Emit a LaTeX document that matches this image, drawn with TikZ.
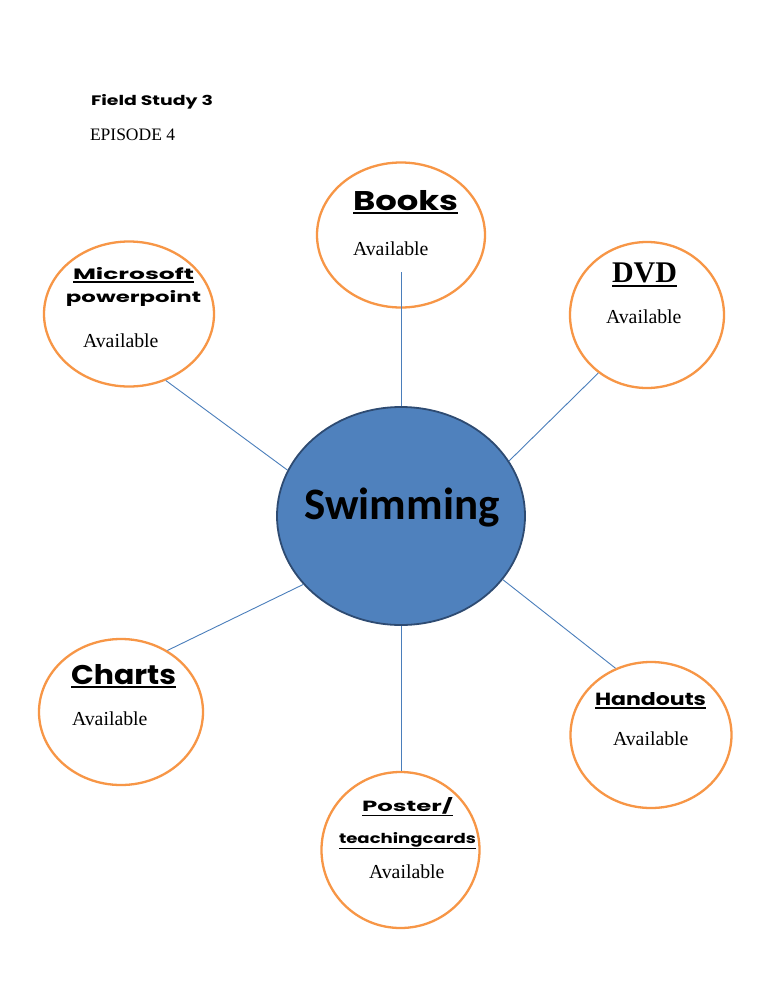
\documentclass[tikz,border=0pt]{standalone}
\usepackage{fontspec}
\usepackage{graphicx}
\usetikzlibrary{shapes.geometric}
\setmainfont{Liberation Serif}
\newfontfamily\decofont{Poppins}
\newfontfamily\calfont{Carlito}
\definecolor{orng}{HTML}{F79646}
\definecolor{blfill}{HTML}{4F81BD}
\definecolor{bldraw}{HTML}{2E4B72}
\definecolor{linkc}{HTML}{4A7EBB}
\newcommand\ulbox[3]{% gap, thickness, content
  \setbox0\hbox{#3}\leavevmode\rlap{\vrule width\wd0 height -\dimexpr\dp0+#1\relax depth \dimexpr\dp0+#1+#2\relax}\box0}
\newcommand\deco[3]{\resizebox{#1pt}{#2pt}{\decofont\bfseries #3}}
\tikzset{
  bubble/.style={ellipse, draw=orng, line width=2.3pt, fill=white, inner sep=0pt},
  hub/.style={ellipse, draw=bldraw, line width=1.8pt, fill=blfill, inner sep=0pt, minimum width=248pt, minimum height=218pt},
  link/.style={draw=linkc, line width=0.9pt},
  txt/.style={anchor=base west, inner sep=0pt, outer sep=0pt},
  avail/.style={txt, font=\fontsize{19.8}{22}\selectfont},
}
\begin{document}
\begin{tikzpicture}[x=1pt,y=-1pt]
\fill[white] (0,0) rectangle (768,994);
\useasboundingbox (0,0) rectangle (768,994);

% header
\node[txt] (fs) at (91,105) {\deco{122}{11}{Field Study 3}};
\node[txt, font=\fontsize{17.5}{20}\selectfont] (ep) at (90,140) {EPISODE 4};

% bubbles
\node[bubble, minimum width=168pt, minimum height=145pt] (books) at (401,235) {};
\node[bubble, minimum width=170pt, minimum height=145pt] (ppt) at (129,314) {};
\node[bubble, minimum width=154pt, minimum height=146pt] (dvd) at (647,315) {};
\node[bubble, minimum width=161pt, minimum height=146pt] (handouts) at (651,735) {};
\node[bubble, minimum width=158pt, minimum height=156pt] (poster) at (400.5,850) {};
\node[bubble, minimum width=164pt, minimum height=146pt] (charts) at (121,712) {};

% hub
\node[hub] (hub) at (401,516) {};
\node[anchor=base, inner sep=0pt, font=\calfont\bfseries\fontsize{45}{50}\selectfont] (swim) at (402,519) {Swimming};

% connectors
\coordinate (booksfoot) at (401,272);
\draw[link] (booksfoot) -- (hub.north);
\draw[link] (ppt.299.3) -- (hub.158.9);
\draw[link] (dvd.230.4) -- (hub.27.8);
\draw[link] (handouts.118.6) -- (hub.328.1);
\draw[link] (charts.53) -- (hub.215.5);
\draw[link] (hub.south) -- (hub.south |- poster.north);

% titles
\node[txt] (tbooks) at (353,210) {\ulbox{2pt}{1.6pt}{\deco{105}{20}{Books}}};
\node[txt] (tppt1) at (73,279) {\ulbox{2pt}{1.6pt}{\deco{121}{12}{Microsoft}}};
\node[txt] (tppt2) at (66,302) {\deco{135}{12}{powerpoint}};
\node[txt, font=\bfseries\fontsize{30}{32}\selectfont] (tdvd) at (612,282) {\ulbox{3pt}{2pt}{DVD}};
\node[txt] (thand) at (595,705) {\ulbox{2pt}{1.6pt}{\deco{111}{13}{Handouts}}};
\node[txt] (tpost1) at (362,811) {\ulbox{1pt}{1.6pt}{\deco{91}{14}{Poster/}}};
\node[txt] (tpost2) at (339,843) {\ulbox{1pt}{1.6pt}{\deco{137}{11}{teachingcards}}};
\node[txt] (tchart) at (71,684) {\ulbox{2pt}{1.6pt}{\deco{105}{20}{Charts}}};

% available
\node[avail] (a1) at (353,255) {Available};
\node[avail] (a2) at (83,347) {Available};
\node[avail] (a3) at (606,323) {Available};
\node[avail] (a4) at (613,745) {Available};
\node[avail] (a5) at (369,878) {Available};
\node[avail] (a6) at (72,725) {Available};
\end{tikzpicture}
\end{document}
